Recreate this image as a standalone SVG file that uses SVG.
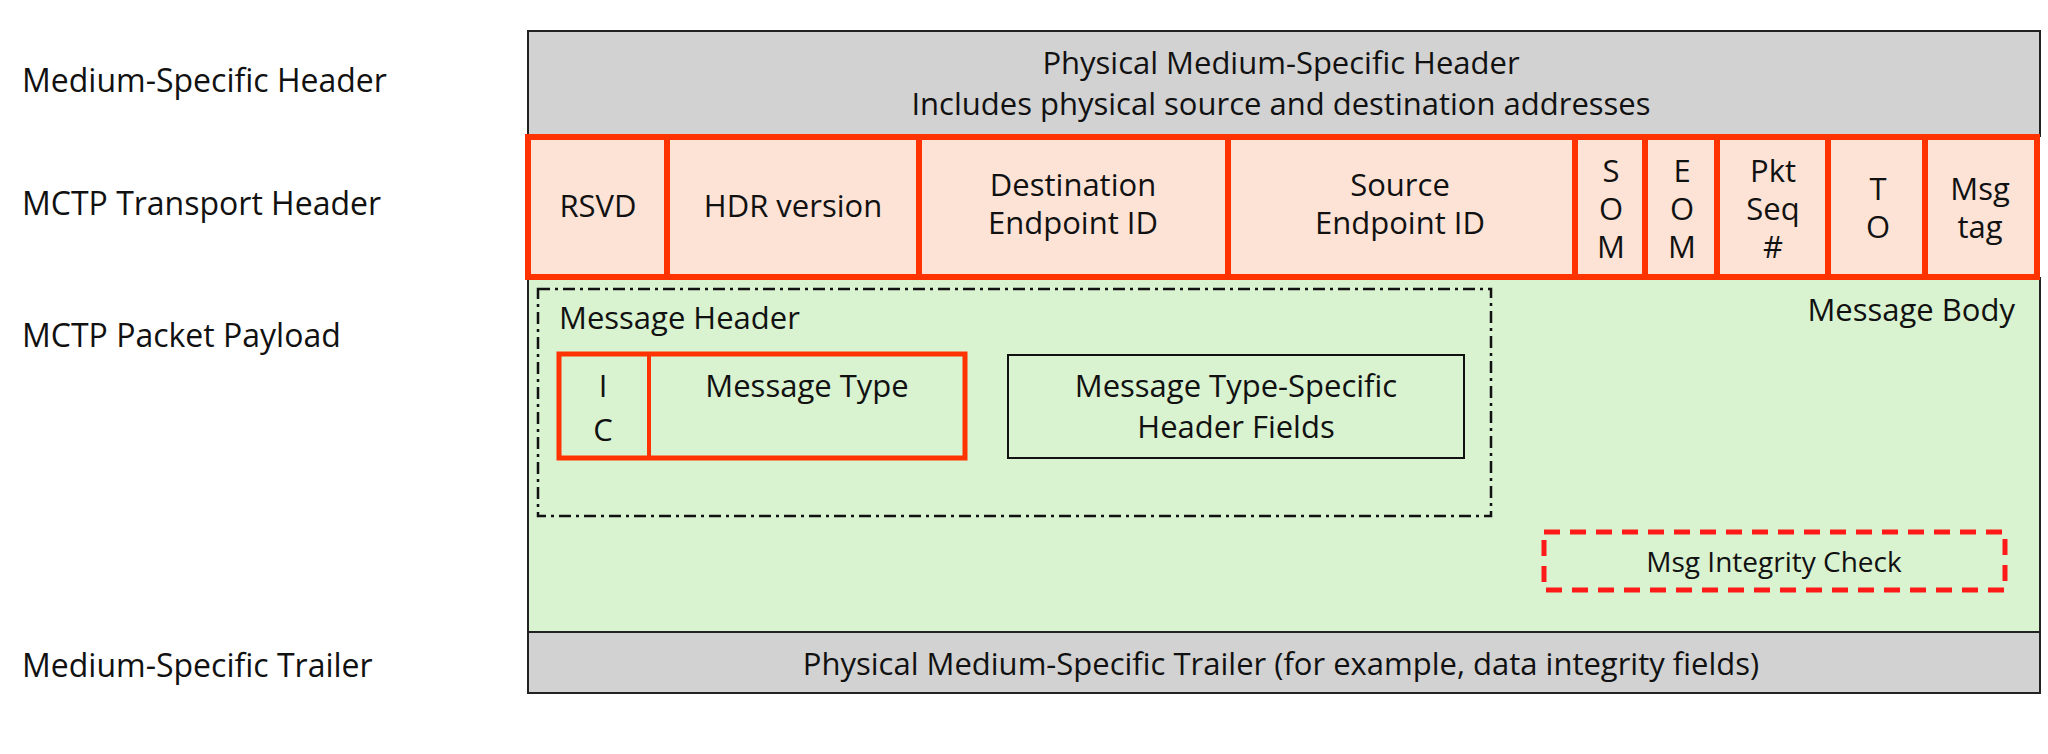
<svg xmlns="http://www.w3.org/2000/svg" width="2048" height="754" viewBox="0 0 2048 754">
<style>
text{font-family:"Open Sans","Noto Sans",sans-serif;fill:#111;font-size:31px}
.lbl{font-size:32px}
.c{text-anchor:middle}
.red{fill:#fce3d6;stroke:#ff3300;stroke-width:6}
.gray{fill:#d2d2d2;stroke:#222;stroke-width:2}
</style>
<rect width="2048" height="754" fill="#fff"/>
<g id="labels">
<text class="lbl" x="22" y="92">Medium-Specific  Header</text>
<text class="lbl" x="22" y="215">MCTP Transport Header</text>
<text class="lbl" x="22" y="347">MCTP Packet Payload</text>
<text class="lbl" x="22" y="677">Medium-Specific Trailer</text>
</g>
<g id="phys-header"><rect class="gray" x="528" y="31" width="1512" height="105"/>
<text class="c" x="1281" y="74">Physical Medium-Specific Header</text>
<text class="c" x="1281" y="115">Includes physical source and destination addresses</text></g>
<g id="payload"><rect x="528" y="278" width="1512" height="354" fill="#d9f2d0" stroke="#222" stroke-width="2"/>
<text x="2015" y="321" text-anchor="end">Message Body</text></g>
<g id="trailer"><rect class="gray" x="528" y="632" width="1512" height="61"/>
<text class="c" x="1281" y="675">Physical Medium-Specific Trailer (for example, data integrity fields)</text></g>
<g id="rsvd"><rect class="red" x="528" y="137" width="139" height="140"/><text class="c" x="598" y="217">RSVD</text></g>
<g id="hdr"><rect class="red" x="667" y="137" width="252" height="140"/><text class="c" x="793" y="217">HDR version</text></g>
<g id="dest"><rect class="red" x="919" y="137" width="309" height="140"/><text class="c" x="1073" y="196">Destination</text><text class="c" x="1073" y="234">Endpoint ID</text></g>
<g id="src"><rect class="red" x="1228" y="137" width="347" height="140"/><text class="c" x="1400" y="196">Source</text><text class="c" x="1400" y="234">Endpoint ID</text></g>
<g id="som"><rect class="red" x="1575" y="137" width="70" height="140"/><text class="c" x="1611" y="182">S</text><text class="c" x="1611" y="220">O</text><text class="c" x="1611" y="258">M</text></g>
<g id="eom"><rect class="red" x="1645" y="137" width="72" height="140"/><text class="c" x="1682" y="182">E</text><text class="c" x="1682" y="220">O</text><text class="c" x="1682" y="258">M</text></g>
<g id="pkt"><rect class="red" x="1717" y="137" width="111" height="140"/><text class="c" x="1773" y="182">Pkt</text><text class="c" x="1773" y="220">Seq</text><text class="c" x="1773" y="258">#</text></g>
<g id="to"><rect class="red" x="1828" y="137" width="97" height="140"/><text class="c" x="1878" y="200">T</text><text class="c" x="1878" y="238">O</text></g>
<g id="tag"><rect class="red" x="1925" y="137" width="112" height="140"/><text class="c" x="1980" y="200">Msg</text><text class="c" x="1980" y="238">tag</text></g>
<g id="msg-header"><rect x="538" y="289" width="953" height="227" fill="none" stroke="#111" stroke-width="2.5" stroke-dasharray="12,5,3,5"/>
<text x="559" y="329">Message Header</text></g>
<g id="ic-type"><rect x="559" y="354" width="406" height="104" fill="none" stroke="#ff3300" stroke-width="5"/>
<line x1="649" y1="354" x2="649" y2="458" stroke="#ff3300" stroke-width="4"/>
<text class="c" x="603" y="397">I</text><text class="c" x="603" y="441">C</text>
<text class="c" x="807" y="397">Message Type</text></g>
<g id="type-specific"><rect x="1008" y="355" width="456" height="103" fill="none" stroke="#111" stroke-width="2"/>
<text class="c" x="1236" y="397">Message Type-Specific</text><text class="c" x="1236" y="438">Header Fields</text></g>
<g id="integrity"><rect x="1544" y="532" width="461" height="58" fill="none" stroke="#ff1a1a" stroke-width="5" stroke-dasharray="16,10"/>
<text class="c" x="1774" y="572" style="font-size:28px">Msg Integrity Check</text></g>
<g id="connectors"/>
</svg>
